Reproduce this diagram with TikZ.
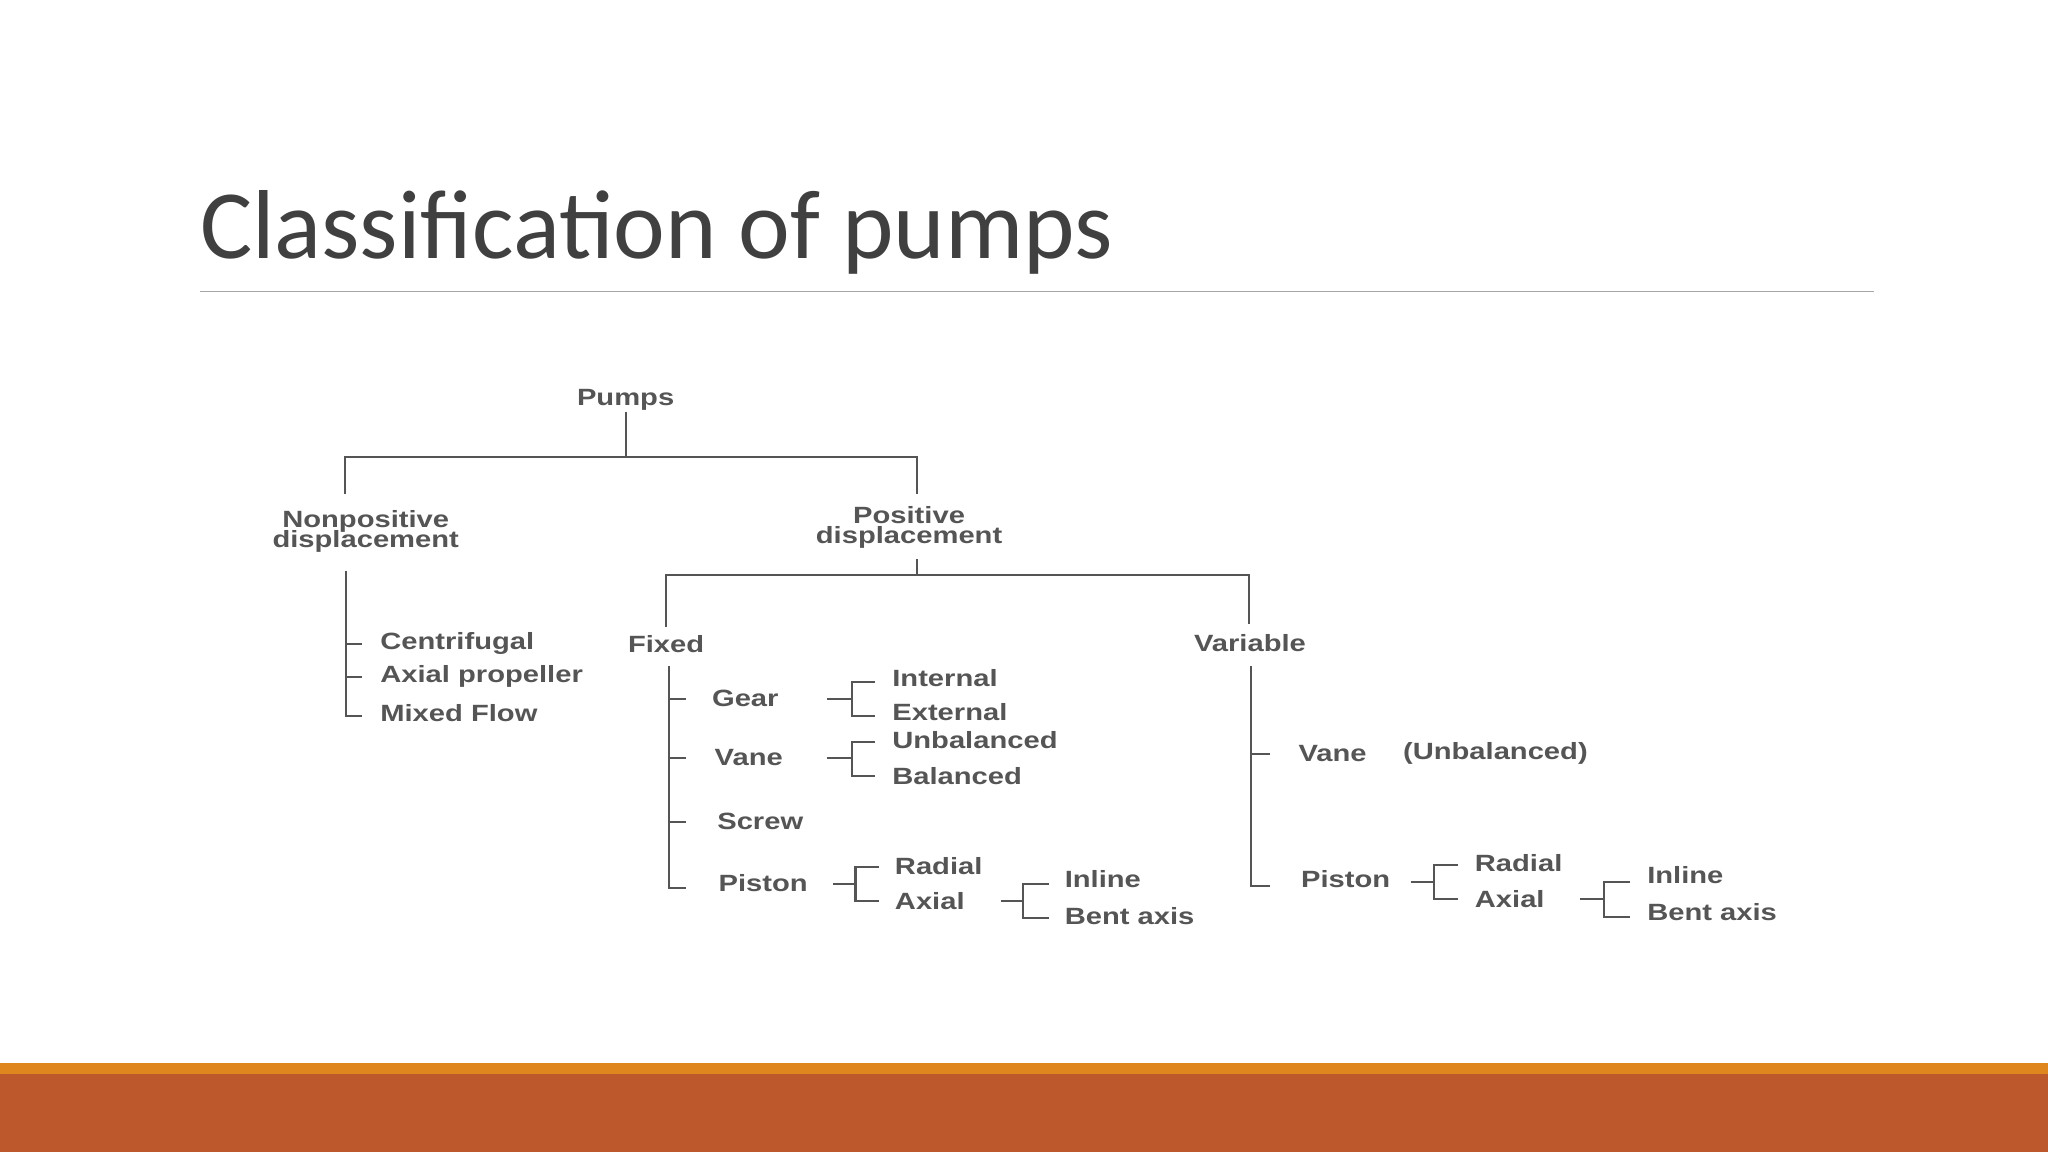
\documentclass[tikz,border=0pt]{standalone}
\usepackage{fontspec}
\setmainfont{Liberation Sans}
\newfontfamily\titlefont{Carlito}
\newfontfamily\dfont[FakeStretch=1.24]{Liberation Sans}
\definecolor{tgray}{HTML}{404040}
\definecolor{dgray}{HTML}{555555}
\definecolor{bar}{HTML}{BD582C}
\definecolor{stripe}{HTML}{E0861E}
\begin{document}
\begin{tikzpicture}[x=1pt,y=-1pt,
  lbl/.style={font=\dfont\fontsize{18}{20}\selectfont\bfseries, text=dgray, inner sep=1pt, anchor=west},
  clbl/.style={font=\dfont\fontsize{18}{20}\selectfont\bfseries, text=dgray, inner sep=1pt, align=center},
  ln/.style={draw=dgray, line width=1.6pt}]
\useasboundingbox (0,0) rectangle (1568,882);
\fill[white] (0,0) rectangle (1568,882);
\node[anchor=base west, inner sep=0, text=tgray, font=\titlefont\fontsize{75}{80}\selectfont] (title) at (153,198) {Classification of pumps};
\draw[gray!70, line width=0.8pt] (153,223) -- (1435,223);
\fill[stripe] (0,814) rectangle (1568,823);
\fill[bar] (0,822) rectangle (1568,882);

% top level
\node[clbl] (pumps) at (479,306) {Pumps};
\node[clbl] (nonpos) at (280,407) {Nonpositive\\[-5pt]displacement};
\node[clbl] (pos) at (696,404) {Positive\\[-5pt]displacement};
\draw[ln] (pumps.south) -- (479,350) coordinate (j1);
\draw[ln] (264,378) -- (264,350) -- (702,350) -- (702,378);

% nonpositive
\node[lbl] (cen) at (290,493) {Centrifugal};
\node[lbl] (axp) at (290,518) {Axial propeller};
\node[lbl] (mix) at (290,546) {Mixed Flow};
\draw[ln] (265,437) -- (265,548) -- (277,548);
\draw[ln] (265,493) -- (277,493) (265,518) -- (277,518);

% positive
\node[clbl] (fixed) at (510,493) {Fixed};
\node[clbl] (var) at (957,492) {Variable};
\draw[ln] (702,428) -- (702,440);
\draw[ln] (510,480) -- (510,440) -- (956,440) -- (956,478);

% fixed branch
\node[lbl] (gear) at (544,535) {Gear};
\node[lbl] (vane) at (546,580) {Vane};
\node[lbl] (screw) at (548,629) {Screw};
\node[lbl] (piston) at (549,676) {Piston};
\draw[ln] (512,510) -- (512,680) -- (525,680);
\draw[ln] (512,535) -- (525,535) (512,580) -- (525,580) (512,629) -- (525,629);

\node[lbl] (int) at (682,519) {Internal};
\node[lbl] (ext) at (682,545) {External};
\draw[ln] (633,535) -- (652,535) (670,522) -- (652,522) -- (652,548) -- (670,548);
\node[lbl] (unb) at (682,567) {Unbalanced};
\node[lbl] (bal) at (682,594) {Balanced};
\draw[ln] (633,580) -- (652,580) (670,568) -- (652,568) -- (652,594) -- (670,594);
\node[lbl] (rad1) at (684,663) {Radial};
\node[lbl] (ax1) at (684,690) {Axial};
\draw[ln] (638,677) -- (655,677) (673,664) -- (655,664) -- (655,690) -- (673,690);
\node[lbl] (inl1) at (814,673) {Inline};
\node[lbl] (bent1) at (814,701) {Bent axis};
\draw[ln] (766,690) -- (783,690) (803,677) -- (783,677) -- (783,703) -- (803,703);

% variable branch
\node[lbl] (vane2) at (993,577) {Vane};
\node[lbl] (unb2) at (1073,577) {(Unbalanced)};
\node[lbl] (piston2) at (995,673) {Piston};
\draw[ln] (958,510) -- (958,678) -- (972,678);
\draw[ln] (958,577) -- (972,577);
\node[lbl] (rad2) at (1128,661) {Radial};
\node[lbl] (ax2) at (1128,688) {Axial};
\draw[ln] (1080,675) -- (1098,675) (1116,662) -- (1098,662) -- (1098,688) -- (1116,688);
\node[lbl] (inl2) at (1260,670) {Inline};
\node[lbl] (bent2) at (1260,698) {Bent axis};
\draw[ln] (1210,688) -- (1228,688) (1248,675) -- (1228,675) -- (1228,702) -- (1248,702);
\end{tikzpicture}
\end{document}
